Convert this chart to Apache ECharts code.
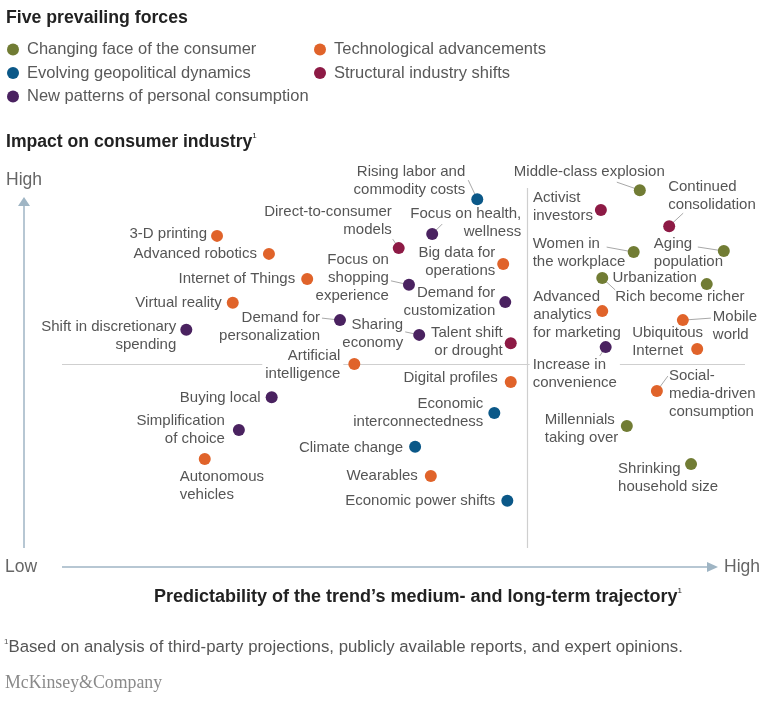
<!DOCTYPE html>
<html><head><meta charset="utf-8">
<script src="https://cdn.jsdelivr.net/npm/echarts@6/dist/echarts.min.js"></script>
<style>html,body{margin:0;padding:0;background:#fff}#c{width:774px;height:704px}</style>
</head><body><div id="c"></div>
<script>
// ---- data (x: predictability 0-100, y: impact 0-100) ----
const forceNames = ["Changing face of the consumer", "Technological advancements", "Evolving geopolitical dynamics", "Structural industry shifts", "New patterns of personal consumption"];
const changingFace = [
  ["Middle-class explosion", 84.6, 99.4],
  ["Women in\nthe workplace", 83.7, 82.2],
  ["Aging\npopulation", 96.9, 82.5],
  ["Urbanization", 94.4, 73.3],
  ["Rich become richer", 79.1, 75.0],
  ["Millennials\ntaking over", 82.7, 33.9],
  ["Shrinking\nhousehold size", 92.1, 23.3]
];
const techAdvances = [
  ["3-D printing", 22.7, 86.7],
  ["Advanced robotics", 30.3, 81.7],
  ["Internet of Things", 35.9, 74.7],
  ["Virtual reality", 25.0, 68.1],
  ["Big data for\noperations", 64.6, 78.9],
  ["Artificial\nintelligence", 42.8, 51.1],
  ["Digital profiles", 65.7, 46.1],
  ["Autonomous\nvehicles", 20.9, 24.7],
  ["Wearables", 54.0, 20.0],
  ["Advanced\nanalytics\nfor marketing", 79.1, 65.8],
  ["Mobile\nworld", 90.9, 63.3],
  ["Ubiquitous\nInternet", 93.0, 55.3],
  ["Social-\nmedia-driven\nconsumption", 87.1, 43.6]
];
const geopolitics = [
  ["Rising labor and\ncommodity costs", 60.8, 96.9],
  ["Economic\ninterconnectedness", 63.3, 37.5],
  ["Climate change", 51.7, 28.1],
  ["Economic power shifts", 65.2, 13.1]
];
const structuralShifts = [
  ["Activist\ninvestors", 78.9, 93.9],
  ["Continued\nconsolidation", 88.9, 89.4],
  ["Direct-to-consumer\nmodels", 49.3, 83.3],
  ["Talent shift\nor drought", 65.7, 56.9]
];
const consumptionPatterns = [
  ["Shift in discretionary\nspending", 18.2, 60.6],
  ["Focus on health,\nwellness", 54.2, 87.2],
  ["Focus on\nshopping\nexperience", 50.8, 73.1],
  ["Demand for\ncustomization", 64.9, 68.3],
  ["Demand for\npersonalization", 40.7, 63.3],
  ["Sharing\neconomy", 52.3, 59.2],
  ["Buying local", 30.7, 41.9],
  ["Simplification\nof choice", 25.9, 32.8],
  ["Increase in\nconvenience", 79.6, 55.8]
];
const quadrantX = 68.1;
const quadrantY = 51.1;
const axisEndLabels = { yHigh: "High", xLow: "Low", xHigh: "High" };

// ---- label layout (pixel offsets from dot centre: align, dx, dy, leader end, white bg) ----
const LAYOUT = {
  "Middle-class explosion": ['l', -126, -27, [-23, -8]],
  "Women in\nthe workplace": ['l', -101, -17, [-27, -5]],
  "Aging\npopulation": ['l', -70, -16, [-26, -4]],
  "Urbanization": ['r', -10, -15],
  "Rich become richer": ['l', 13, 10, [13, 12]],
  "Millennials\ntaking over": ['l', -82, -15],
  "Shrinking\nhousehold size": ['l', -73, -4],
  "3-D printing": ['r', -10, -11],
  "Advanced robotics": ['r', -12, -9],
  "Internet of Things": ['r', -12, -9],
  "Virtual reality": ['r', -11, -9],
  "Big data for\noperations": ['r', -8, -20],
  "Artificial\nintelligence": ['r', -14, -17, null, true],
  "Digital profiles": ['r', -13, -13],
  "Autonomous\nvehicles": ['l', -25, 9],
  "Wearables": ['r', -13, -9],
  "Advanced\nanalytics\nfor marketing": ['l', -69, -23],
  "Mobile\nworld": ['l', 30, -12, [28, -2]],
  "Ubiquitous\nInternet": ['l', -65, -25],
  "Social-\nmedia-driven\nconsumption": ['l', 12, -24, [11, -15]],
  "Rising labor and\ncommodity costs": ['r', -12, -36, [-9, -19]],
  "Economic\ninterconnectedness": ['r', -11, -18],
  "Climate change": ['r', -12, -8],
  "Economic power shifts": ['r', -12, -9],
  "Activist\ninvestors": ['l', -68, -21],
  "Continued\nconsolidation": ['l', -1, -48, [14, -13]],
  "Direct-to-consumer\nmodels": ['r', -7, -45, [-6, -9]],
  "Talent shift\nor drought": ['r', -8, -19],
  "Shift in discretionary\nspending": ['r', -10, -12],
  "Focus on health,\nwellness": ['r', 89, -29, [10, -10]],
  "Focus on\nshopping\nexperience": ['r', -20, -34, [-18, -4]],
  "Demand for\ncustomization": ['r', -10, -18],
  "Demand for\npersonalization": ['r', -20, -11, [-18, -2]],
  "Sharing\neconomy": ['r', -16, -19, [-14, -3]],
  "Buying local": ['r', -11, -8],
  "Simplification\nof choice": ['r', -14, -18],
  "Increase in\nconvenience": ['l', -73, 9, [-6, 9], true]
};

const FONT = '"Liberation Sans", Arial, Helvetica, sans-serif';
const colors = ["#717c34", "#e0632a", "#0b5888", "#8d1a45", "#4a2260"];
const groups = [changingFace, techAdvances, geopolitics, structuralShifts, consumptionPatterns];
const SYM = 12;

function toItem(d) {
  const L = LAYOUT[d[0]];
  const right = L[0] === 'r';
  const bg = !!L[4];
  const pad = bg ? 3 : 0;
  return {
    name: d[0],
    value: [d[1], d[2]],
    label: {
      position: [L[1] + SYM / 2 + (bg ? (right ? pad : -pad) : 0), L[2] + SYM / 2],
      align: right ? 'right' : 'left',
      backgroundColor: bg ? '#fff' : 'transparent',
      padding: bg ? [0, pad] : 0
    }
  };
}

const leaderData = [];
groups.forEach(g => g.forEach(d => {
  const L = LAYOUT[d[0]];
  if (L[3]) leaderData.push([d[1], d[2], L[3][0], L[3][1]]);
}));

const series = groups.map((g, i) => ({
  name: forceNames[i],
  type: 'scatter',
  symbol: 'circle',
  symbolSize: SYM,
  z: 5,
  itemStyle: { color: colors[i], opacity: 1 },
  emphasis: { disabled: true },
  label: {
    show: true,
    formatter: '{b}',
    verticalAlign: 'top',
    fontFamily: FONT,
    fontSize: 15,
    lineHeight: 18,
    color: '#555'
  },
  data: g.map(toItem)
}));

series.push({
  type: 'line',
  data: [],
  z: 1,
  silent: true,
  markLine: {
    silent: true,
    symbol: ['none', 'none'],
    label: { show: false },
    lineStyle: { color: '#cfcfcf', type: 'solid', width: 1.2 },
    data: [{ xAxis: quadrantX }, { yAxis: quadrantY }]
  }
});

series.push({
  type: 'custom',
  z: 3,
  silent: true,
  data: leaderData,
  renderItem: function (params, api) {
    const p = api.coord([api.value(0), api.value(1)]);
    return {
      type: 'line',
      shape: { x1: p[0], y1: p[1], x2: p[0] + api.value(2), y2: p[1] + api.value(3) },
      style: { stroke: '#a8a8a8', lineWidth: 1 }
    };
  }
});

const AX = '#9fb5c4';
const legendCommon = {
  orient: 'vertical', icon: 'circle', itemWidth: 18, itemHeight: 12, itemGap: 6.5, padding: 0,
  selectedMode: false,
  textStyle: { fontFamily: FONT, fontSize: 16.5, color: '#595959' }
};

const option = {
  animation: false,
  backgroundColor: '#fff',
  grid: { left: 62, right: 29, top: 188, bottom: 156 },
  xAxis: { type: 'value', min: 0, max: 100, show: false },
  yAxis: { type: 'value', min: 0, max: 100, show: false },
  legend: [
    Object.assign({ left: 7, top: 41, data: [forceNames[0], forceNames[2], forceNames[4]] }, legendCommon),
    Object.assign({ left: 314, top: 41, data: [forceNames[1], forceNames[3]] }, legendCommon)
  ],
  series: series,
  graphic: [
    { type: 'text', x: 6, y: 18, style: { text: 'Five prevailing forces', font: 'bold 17.7px ' + FONT, fill: '#222', verticalAlign: 'middle' } },
    { type: 'text', x: 6, y: 142, style: {
      text: '{a|Impact on consumer industry}{s|1}', verticalAlign: 'middle',
      rich: { a: { fontFamily: FONT, fontWeight: 'bold', fontSize: 17.6, fill: '#222', lineHeight: 20 },
              s: { fontFamily: FONT, fontSize: 8, fill: '#222', verticalAlign: 'top', lineHeight: 20 } } } },
    { type: 'text', x: 6, y: 180, style: { text: axisEndLabels.yHigh, font: '17.5px ' + FONT, fill: '#666', verticalAlign: 'middle' } },
    { type: 'text', x: 5, y: 567, style: { text: axisEndLabels.xLow, font: '17.5px ' + FONT, fill: '#666', verticalAlign: 'middle' } },
    { type: 'text', x: 724, y: 567, style: { text: axisEndLabels.xHigh, font: '17.5px ' + FONT, fill: '#666', verticalAlign: 'middle' } },
    { type: 'line', shape: { x1: 24, y1: 548, x2: 24, y2: 204 }, style: { stroke: AX, lineWidth: 1.5 } },
    { type: 'polygon', shape: { points: [[24, 197], [18, 206], [30, 206]] }, style: { fill: AX } },
    { type: 'line', shape: { x1: 62, y1: 567, x2: 708, y2: 567 }, style: { stroke: AX, lineWidth: 1.5 } },
    { type: 'polygon', shape: { points: [[718, 567], [707, 562], [707, 572]] }, style: { fill: AX } },
    { type: 'text', x: 418, y: 597, style: {
      text: '{a|Predictability of the trend\u2019s medium- and long-term trajectory}{s|1}', align: 'center', verticalAlign: 'middle',
      rich: { a: { fontFamily: FONT, fontWeight: 'bold', fontSize: 18, fill: '#222', lineHeight: 20 },
              s: { fontFamily: FONT, fontSize: 8, fill: '#222', verticalAlign: 'top', lineHeight: 20 } } } },
    { type: 'text', x: 4, y: 647, style: {
      text: '{s|1}{a|Based on analysis of third-party projections, publicly available reports, and expert opinions.}', verticalAlign: 'middle',
      rich: { a: { fontFamily: FONT, fontSize: 16.8, fill: '#555', lineHeight: 18 },
              s: { fontFamily: FONT, fontSize: 8, fill: '#555', verticalAlign: 'top', lineHeight: 18 } } } },
    { type: 'text', x: 5, y: 683, style: { text: 'McKinsey&Company', font: '17.8px "Liberation Serif", "Times New Roman", serif', fill: '#8a8a8a', verticalAlign: 'middle' } }
  ]
};

const chart = echarts.init(document.getElementById('c'), null, { renderer: 'canvas' });
chart.setOption(option);
</script>
</body></html>
